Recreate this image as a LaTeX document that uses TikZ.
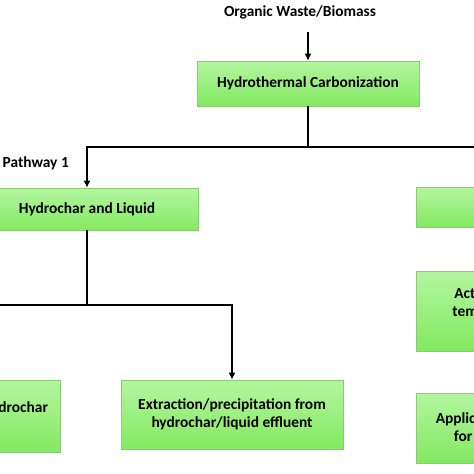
\documentclass[tikz,border=0pt]{standalone}
\usepackage{fontspec}
\setmainfont{Carlito}
\usetikzlibrary{arrows.meta}

\definecolor{boxtop}{HTML}{B4F5A0}
\definecolor{boxbot}{HTML}{82EA60}
\definecolor{boxline}{HTML}{8CC878}

\tikzset{
  stepbox/.style={draw=boxline, line width=0.6pt, top color=boxtop, bottom color=boxbot,
    minimum width=222pt, inner sep=0pt, align=center,
    font=\bfseries\fontsize{15.4}{18}\selectfont},
  tag/.style={inner sep=0pt, font=\bfseries\fontsize{15.4}{18}\selectfont},
  flow/.style={line width=2pt, -{Latex[length=7pt,width=7pt]}}
}

\begin{document}
\begin{tikzpicture}[x=1pt,y=-1pt]
\useasboundingbox (0,0) rectangle (474,474);
\clip (0,0) rectangle (474,474);

\node[tag] (title) at (300,12) {Organic Waste/Biomass};
\coordinate (feed) at (308,32);
\node[stepbox, minimum height=45pt] (htc) at (308,83.5) {Hydrothermal Carbonization};

% pathway 1
\node[tag, anchor=east] (path1) at (69,163) {Pathway 1};
\node[stepbox, minimum height=42pt] (hcl) at (87,209) {Hydrochar and Liquid};
\node[stepbox, minimum height=72pt, text width=198pt, align=right] (solid) at (-51,416)
  {Direct use of hydrochar\\\mbox{}};
\node[stepbox, minimum height=69pt] (ext) at (232,414.5)
  {Extraction/precipitation from\\hydrochar/liquid effluent};

% pathway 2
\node[stepbox, minimum height=40pt] (pw2) at (527,207) {};
\node[stepbox, minimum height=80pt] (act) at (527,311)
  {Activation via elevated\\temperature treatment\\\mbox{}};
\node[stepbox, minimum height=70pt] (app) at (527,428)
  {Application of the hydrochar\\for energy applications};

\draw[flow] (feed) -- (htc);
\draw[flow] (htc.south) -- ++(0,41) coordinate (fork) -| (hcl.north);
\draw[flow] (fork) -| (pw2.north);
\draw[flow] (hcl.south) -- ++(0,75) coordinate (fork2) -| (ext.north);
\draw[flow] (fork2) -| (solid.north);
\end{tikzpicture}
\end{document}
